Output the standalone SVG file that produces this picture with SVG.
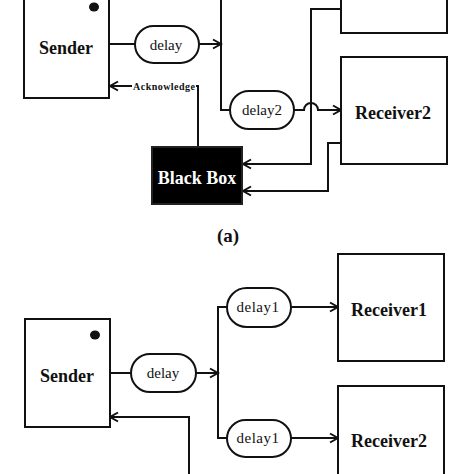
<svg xmlns="http://www.w3.org/2000/svg" width="474" height="474" viewBox="0 0 474 474">
<defs>
<style>
.box{fill:#fff;stroke:#111;stroke-width:2}
.blk{fill:#000;stroke:#222;stroke-width:2}
.pill{fill:#fff;stroke:#111;stroke-width:2}
.ln{fill:none;stroke:#111;stroke-width:2}
.big{font-family:"Liberation Serif",serif;font-weight:bold;font-size:18px;text-anchor:middle;fill:#111}
.sm{font-family:"Liberation Serif",serif;font-size:15px;text-anchor:middle;fill:#111}
.ack{font-family:"Liberation Serif",serif;font-weight:bold;font-size:10px;fill:#111}
</style>
<marker id="arr" markerUnits="userSpaceOnUse" markerWidth="12" markerHeight="12" refX="10" refY="6" orient="auto">
<path d="M2,1.5 L10,6 L2,10.5" fill="none" stroke="#111" stroke-width="2"/>
</marker>
</defs>
<rect width="474" height="474" fill="#fff"/>

<g id="connectors">
<path class="ln" d="M109,44 H135"/>
<path class="ln" d="M199,44 H221" marker-end="url(#arr)"/>
<path class="ln" d="M221,-2 V110 H230"/>
<path class="ln" d="M294,110 H304 A7,7 0 0 1 318,110 H341" marker-end="url(#arr)"/>
<path class="ln" d="M341,9 H311 V164 H243" marker-end="url(#arr)"/>
<path class="ln" d="M341,143 H328 V191 H243" marker-end="url(#arr)"/>
<path class="ln" d="M198,148 V86 H110" marker-end="url(#arr)"/>
<rect x="132" y="80" width="64" height="12" fill="#fff"/>
<text class="ack" x="133" y="89.5" textLength="62">Acknowledge</text>

<path class="ln" d="M110,373 H131"/>
<path class="ln" d="M196,373 H218" marker-end="url(#arr)"/>
<path class="ln" d="M227,307 H218 V438 H227"/>
<path class="ln" d="M291,307 H338" marker-end="url(#arr)"/>
<path class="ln" d="M291,438 H338" marker-end="url(#arr)"/>
<path class="ln" d="M189,480 V417 H110" marker-end="url(#arr)"/>
</g>

<g id="sender-a">
<rect class="box" x="24" y="-5" width="85" height="103"/>
<ellipse cx="94" cy="7" rx="5" ry="4.5" fill="#111"/>
<text class="big" x="66" y="54">Sender</text>
</g>
<g id="delay-a">
<rect class="pill" x="135" y="26" width="64" height="37" rx="18.5"/>
<text class="sm" x="166" y="50">delay</text>
</g>
<g id="delay2-a">
<rect class="pill" x="230" y="91" width="64" height="38" rx="19"/>
<text class="sm" x="262" y="115">delay2</text>
</g>
<g id="receiver1-a">
<rect class="box" x="341" y="-5" width="106" height="38"/>
</g>
<g id="receiver2-a">
<rect class="box" x="341" y="57" width="106" height="107"/>
<text class="big" x="393" y="119">Receiver2</text>
</g>
<g id="blackbox-a">
<rect class="blk" x="152" y="147" width="90" height="57"/>
<text class="big" x="197" y="184" style="fill:#fff">Black Box</text>
</g>
<g id="label-a">
<text class="big" x="228" y="242" style="font-size:19px">(a)</text>
</g>

<g id="sender-b">
<rect class="box" x="25" y="319" width="85" height="108"/>
<ellipse cx="95" cy="335" rx="5" ry="4.5" fill="#111"/>
<text class="big" x="67" y="382">Sender</text>
</g>
<g id="delay-b">
<rect class="pill" x="131" y="354" width="65" height="38" rx="19"/>
<text class="sm" x="163" y="378">delay</text>
</g>
<g id="delay1-top-b">
<rect class="pill" x="227" y="288" width="64" height="39" rx="19.5"/>
<text class="sm" x="258" y="312" letter-spacing="0.5">delay1</text>
</g>
<g id="delay1-bot-b">
<rect class="pill" x="227" y="420" width="64" height="37" rx="18.5"/>
<text class="sm" x="258" y="443" letter-spacing="0.5">delay1</text>
</g>
<g id="receiver1-b">
<rect class="box" x="338" y="254" width="106" height="107"/>
<text class="big" x="389" y="316">Receiver1</text>
</g>
<g id="receiver2-b">
<rect class="box" x="338" y="386" width="106" height="100"/>
<text class="big" x="389" y="447">Receiver2</text>
</g>
</svg>
